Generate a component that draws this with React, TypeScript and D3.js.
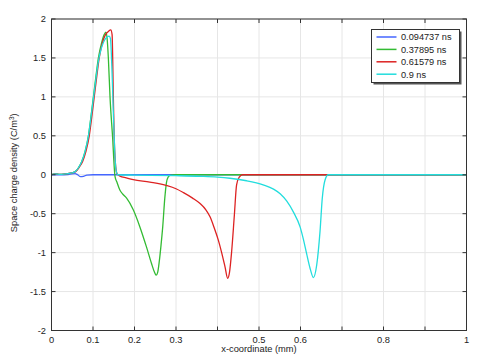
import React from 'react';
import * as d3 from 'd3';

// Space charge density profiles at four times
const seriesNames = ['0.094737 ns', '0.37895 ns', '0.61579 ns', '0.9 ns'];
const seriesColors = ['#4466ff', '#33bb33', '#dd2222', '#22dddd'];

const blueX = [0, 0.02, 0.04, 0.05, 0.057, 0.063, 0.07, 0.077, 0.085, 0.1, 0.2, 0.4, 0.6, 0.8, 1];
const blueY = [0, 0, 0.003, 0.012, 0.015, 0.0, -0.025, -0.02, -0.005, 0, 0, 0, 0, 0, 0];

const greenX = [0, 0.01, 0.02, 0.03, 0.04, 0.05, 0.057, 0.065, 0.073, 0.081, 0.089, 0.095, 0.101, 0.107, 0.113, 0.121, 0.127, 0.131, 0.134, 0.137, 0.141, 0.147, 0.153, 0.158, 0.165, 0.172, 0.181, 0.197, 0.213, 0.229, 0.241, 0.248, 0.252, 0.256, 0.26, 0.264, 0.268, 0.273, 0.277, 0.281, 0.287, 0.3, 0.5, 1];
const greenY = [0, 0.01, 0.005, 0.008, 0.015, 0.025, 0.04, 0.09, 0.17, 0.3, 0.5, 0.74, 1.0, 1.26, 1.5, 1.7, 1.8, 1.83, 1.75, 1.5, 1.0, 0.5, -0.02, -0.1, -0.2, -0.25, -0.3, -0.45, -0.67, -0.93, -1.14, -1.25, -1.29, -1.25, -1.1, -0.9, -0.67, -0.3, -0.1, -0.03, -0.005, 0, 0, 0];

const redX = [0, 0.01, 0.02, 0.03, 0.04, 0.05, 0.058, 0.066, 0.075, 0.083, 0.091, 0.097, 0.103, 0.109, 0.115, 0.123, 0.13, 0.137, 0.1427, 0.146, 0.149, 0.151, 0.154, 0.158, 0.165, 0.18, 0.197, 0.237, 0.278, 0.3, 0.318, 0.34, 0.358, 0.372, 0.382, 0.392, 0.402, 0.41, 0.418, 0.4245, 0.429, 0.434, 0.4406, 0.446, 0.4525, 0.46, 0.6, 1];
const redY = [0, 0.01, 0.005, 0.008, 0.015, 0.025, 0.04, 0.09, 0.17, 0.3, 0.5, 0.74, 1.0, 1.26, 1.5, 1.7, 1.8, 1.84, 1.86, 1.8, 1.0, 0.5, 0.15, 0.01, -0.017, -0.04, -0.062, -0.095, -0.14, -0.18, -0.23, -0.3, -0.37, -0.45, -0.54, -0.68, -0.84, -1.0, -1.18, -1.33, -1.25, -0.99, -0.52, -0.13, -0.03, 0, 0, 0];

const cyanX = [0, 0.01, 0.02, 0.03, 0.04, 0.05, 0.057, 0.065, 0.073, 0.081, 0.089, 0.095, 0.101, 0.107, 0.113, 0.121, 0.128, 0.134, 0.139, 0.142, 0.146, 0.149, 0.152, 0.155, 0.16, 0.2, 0.3, 0.358, 0.4, 0.43, 0.47, 0.51, 0.535, 0.551, 0.567, 0.583, 0.599, 0.607, 0.615, 0.623, 0.631, 0.639, 0.647, 0.6525, 0.659, 0.667, 0.8, 1];
const cyanY = [0, 0.01, 0.005, 0.008, 0.015, 0.025, 0.04, 0.09, 0.17, 0.3, 0.5, 0.73, 0.98, 1.23, 1.46, 1.64, 1.73, 1.77, 1.78, 1.75, 1.3, 0.8, 0.35, 0.08, 0, -0.004, -0.012, -0.02, -0.03, -0.045, -0.077, -0.13, -0.185, -0.245, -0.34, -0.48, -0.67, -0.83, -1.02, -1.2, -1.32, -1.16, -0.73, -0.3, -0.07, 0, 0, 0];

const seriesX = [blueX, greenX, redX, cyanX];
const seriesY = [blueY, greenY, redY, cyanY];

const xTickValues = [0, 0.1, 0.2, 0.3, 0.4, 0.5, 0.6, 0.7, 0.8, 0.9, 1];
const xTickLabels = ['0', '0.1', '0.2', '0.3', '', '0.5', '0.6', '', '0.8', '', '1'];
const yTickValues = [-2, -1.5, -1, -0.5, 0, 0.5, 1, 1.5, 2];
const yTickLabels = ['-2', '-1.5', '-1', '-0.5', '0', '0.5', '1', '1.5', '2'];

const W = 477;
const H = 355;
const margin = { left: 51.5, right: 10.5, top: 19, bottom: 24.5 };
const font = '"Liberation Sans", Arial, sans-serif';

export default function App() {
  const x = d3.scaleLinear().domain([0, 1]).range([margin.left, W - margin.right]);
  const y = d3.scaleLinear().domain([-2, 2]).range([H - margin.bottom, margin.top]);
  const [x0, x1] = x.range();
  const [yb, yt] = y.range();

  const line = d3
    .line<[number, number]>()
    .x(d => x(d[0]))
    .y(d => y(d[1]))
    .curve(d3.curveMonotoneX);

  const legend = { x: 371.5, y: 29.5, w: 88, h: 53 };

  return (
    <svg
      width={W}
      height={H}
      style={{ position: 'absolute', left: 0, top: 0, background: '#fff' }}
      fontFamily={font}
    >
      <rect width={W} height={H} fill="#fff" />

      {/* grid */}
      {xTickValues.map(v => (
        <line key={'gx' + v} x1={x(v)} x2={x(v)} y1={yt} y2={yb} stroke="#e6e6e6" strokeWidth={1} />
      ))}
      {yTickValues.map(v => (
        <line key={'gy' + v} x1={x0} x2={x1} y1={y(v)} y2={y(v)} stroke="#e6e6e6" strokeWidth={1} />
      ))}

      {/* curves */}
      <g clipPath="url(#plotclip)">
        {seriesX.map((xs, i) => (
          <path
            key={seriesNames[i]}
            d={line(xs.map((xv, j) => [xv, seriesY[i][j]] as [number, number])) || ''}
            fill="none"
            stroke={seriesColors[i]}
            strokeWidth={1.3}
            strokeLinejoin="round"
          />
        ))}
      </g>
      <defs>
        <clipPath id="plotclip">
          <rect x={x0} y={yt} width={x1 - x0} height={yb - yt} />
        </clipPath>
      </defs>

      {/* frame */}
      <rect x={x0} y={yt} width={x1 - x0} height={yb - yt} fill="none" stroke="#333" strokeWidth={1} />

      {/* ticks (inward on all sides) */}
      {xTickValues.map(v => (
        <g key={'tx' + v}>
          <line x1={x(v)} x2={x(v)} y1={yb} y2={yb - 4} stroke="#333" />
          <line x1={x(v)} x2={x(v)} y1={yt} y2={yt + 4} stroke="#333" />
        </g>
      ))}
      {yTickValues.map(v => (
        <g key={'ty' + v}>
          <line x1={x0} x2={x0 + 4} y1={y(v)} y2={y(v)} stroke="#333" />
          <line x1={x1} x2={x1 - 4} y1={y(v)} y2={y(v)} stroke="#333" />
        </g>
      ))}

      {/* tick labels */}
      {xTickValues.map((v, i) => (
        <text key={'lx' + v} x={x(v)} y={342.5} textAnchor="middle" fontSize={9.3} fill="#222">
          {xTickLabels[i]}
        </text>
      ))}
      {yTickValues.map((v, i) => (
        <text key={'ly' + v} x={46} y={y(v) + 3.3} textAnchor="end" fontSize={9.3} fill="#222">
          {yTickLabels[i]}
        </text>
      ))}

      {/* axis titles */}
      <text x={259} y={352} textAnchor="middle" fontSize={9.3} fill="#222">
        x-coordinate (mm)
      </text>
      <text
        transform={`translate(17,${(yt + yb) / 2 - 2}) rotate(-90)`}
        textAnchor="middle"
        fontSize={9.3}
        fill="#222"
      >
        Space charge density (C/m<tspan dy={-3.5} fontSize={6.5}>3</tspan>
        <tspan dy={3.5}>)</tspan>
      </text>

      {/* legend */}
      <rect x={legend.x + 2} y={legend.y + 2} width={legend.w} height={legend.h} fill="#555" />
      <rect x={legend.x} y={legend.y} width={legend.w} height={legend.h} fill="#fff" stroke="#333" strokeWidth={1} />
      {seriesNames.map((name, i) => {
        const ly = legend.y + 7.5 + i * 12.4;
        return (
          <g key={'leg' + name}>
            <line x1={legend.x + 5} x2={legend.x + 25} y1={ly} y2={ly} stroke={seriesColors[i]} strokeWidth={1.5} />
            <text x={legend.x + 29.5} y={ly + 3.3} fontSize={9.2} fill="#222">
              {name}
            </text>
          </g>
        );
      })}
    </svg>
  );
}
